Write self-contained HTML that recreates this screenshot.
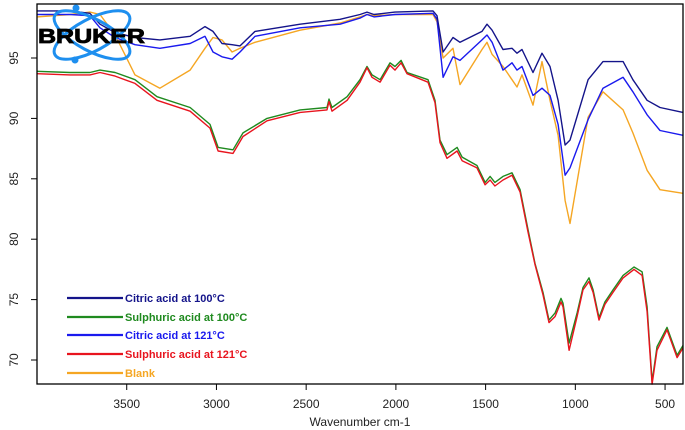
<!DOCTYPE html>
<html><head><meta charset="utf-8"><style>
html,body{margin:0;padding:0;background:#fff;}
svg{display:block;font-family:"Liberation Sans",sans-serif;}
</style></head><body>
<svg id="chart" width="685" height="430" viewBox="0 0 685 430" xmlns="http://www.w3.org/2000/svg">
<g id="series"></g>
<rect x="37" y="4" width="646" height="380" fill="none" stroke="#000" stroke-width="1.3"/>
<g id="axes"></g>
<g>
<ellipse cx="92" cy="35" rx="42" ry="16" transform="rotate(28 92 35)" fill="none" stroke="#1e8fef" stroke-width="3"/>
<ellipse cx="92" cy="35" rx="42" ry="16" transform="rotate(-28 92 35)" fill="none" stroke="#1e8fef" stroke-width="3"/>
<circle cx="76" cy="8" r="3.5" fill="#1e8fef"/>
<circle cx="75" cy="60" r="3.5" fill="#1e8fef"/>
<text x="38" y="43" font-size="20" font-weight="bold" fill="#000" textLength="107" lengthAdjust="spacingAndGlyphs" stroke="#000" stroke-width="0.8" style="font-family:'Liberation Sans',sans-serif">BRUKER</text>
</g>
<g id="legend"></g>
<text x="360" y="426" font-size="12" text-anchor="middle" fill="#222">Wavenumber cm-1</text>
</svg>
<script>
const W1 = [4000,3816,3705,3649,3565,3454,3315,3147,3064,3019,2969,2913,2869,2785,2534,2311,2200,2161,2122,2005,1793,1771,1737,1682,1643,1520,1492,1464,1403,1353,1325,1297,1236,1186,1141,1096,1057,1030,929,846,734,679,600,528,400];
const citric100 = [98.9,98.9,98.7,97.8,97.1,96.7,96.5,96.8,97.6,97.2,96.2,96.1,96.0,97.2,97.8,98.2,98.6,98.8,98.6,98.8,98.9,98.5,95.5,96.7,96.3,97.2,97.8,97.3,95.7,95.8,95.4,95.7,93.8,95.4,94.3,91.5,87.8,88.2,93.2,94.7,94.7,93.2,91.5,90.9,90.5];
const citric121 = [98.6,98.6,98.5,97.5,96.7,96.1,95.8,96.2,96.8,95.5,95.1,94.9,95.5,96.8,97.5,97.8,98.3,98.6,98.4,98.6,98.7,98.2,93.4,95.1,94.8,96.5,96.9,96.3,94.0,94.6,94.0,94.3,91.9,92.5,91.9,89.5,85.3,85.9,89.9,92.5,93.4,92.2,90.3,89.0,88.6];
const blank = [98.4,98.6,98.8,98.6,96.9,93.6,92.5,94.0,95.8,96.7,96.5,95.5,95.8,96.3,97.3,97.9,98.4,98.6,98.5,98.6,98.6,98.0,95.0,95.8,92.8,95.7,96.3,95.3,94.3,93.2,92.6,93.6,91.1,94.7,91.5,88.6,83.2,81.3,90.1,92.2,90.7,88.8,85.7,84.1,83.8];
const W2 = [4000,3816,3705,3649,3565,3454,3331,3147,3036,2991,2908,2852,2718,2534,2384,2373,2356,2272,2200,2161,2133,2088,2033,2005,1971,1938,1821,1782,1754,1715,1659,1631,1548,1503,1475,1448,1403,1353,1308,1264,1225,1180,1147,1113,1080,1069,1035,990,957,924,901,868,835,790,734,673,628,600,572,545,489,433,400];
const sulph100 = [93.9,93.8,93.8,94.0,93.8,93.2,91.8,90.9,89.5,87.6,87.4,88.8,90.0,90.7,90.9,91.6,90.9,91.8,93.2,94.3,93.6,93.2,94.6,94.3,94.8,93.8,93.2,91.5,88.2,87.0,87.6,86.8,86.1,84.7,85.2,84.7,85.2,85.5,84.1,80.8,78.0,75.6,73.3,73.9,75.1,74.7,71.4,73.9,76.0,76.8,75.8,73.5,74.8,75.8,77.0,77.7,77.3,74.4,68.2,71.1,72.7,70.4,71.2];
const sulph121 = [93.7,93.6,93.6,93.8,93.5,92.9,91.5,90.6,89.2,87.3,87.1,88.5,89.8,90.5,90.7,91.4,90.6,91.5,93.0,94.2,93.4,93.0,94.4,94.0,94.6,93.7,93.0,91.3,88.0,86.7,87.3,86.5,85.9,84.5,84.9,84.4,84.9,85.3,83.9,80.6,77.9,75.4,73.1,73.6,74.8,74.4,70.8,73.6,75.8,76.5,75.6,73.3,74.6,75.6,76.8,77.5,77.0,74.0,68.0,70.8,72.5,70.2,71.0];
const xTicks = [3500,3000,2500,2000,1500,1000,500];
const yTicks = [70,75,80,85,90,95];
const legendLabels = ["Citric acid at 100°C","Sulphuric acid at 100°C","Citric acid at 121°C","Sulphuric acid at 121°C","Blank"];

const NS="http://www.w3.org/2000/svg";
const X0=37,X1=683,WMAX=4000,WMIN=400;
const Y95=58,PXU=12.08;
function xs(w){return X0+(WMAX-w)*(X1-X0)/(WMAX-WMIN);}
function ys(v){return Y95+(95-v)*PXU;}
function mk(t,a,p){const e=document.createElementNS(NS,t);for(const k in a)e.setAttribute(k,a[k]);p.appendChild(e);return e;}

const seriesG=document.getElementById('series');
const defs=[
 {w:W2,v:sulph100,c:"#1f8a1f",n:"series-sulphuric-100"},
 {w:W2,v:sulph121,c:"#e8141e",n:"series-sulphuric-121"},
 {w:W1,v:blank,c:"#f5a623",n:"series-blank"},
 {w:W1,v:citric121,c:"#1a1aee",n:"series-citric-121"},
 {w:W1,v:citric100,c:"#14148a",n:"series-citric-100"}
];
defs.forEach(d=>{
  let s="";
  d.v.forEach((v,i)=>{s+=(i?"L":"M")+xs(d.w[i]).toFixed(1)+" "+ys(v).toFixed(1)+" ";});
  const p=mk('path',{d:s,fill:"none",stroke:d.c,"stroke-width":"1.4","stroke-linejoin":"round"},seriesG);
  
  
});

const ax=document.getElementById('axes');
xTicks.forEach(t=>{
  const x=xs(t);
  const l=mk('line',{x1:x,x2:x,y1:384,y2:390,stroke:"#000"},ax);
  
  
  const tx=mk('text',{x:x,y:408,"font-size":"12","text-anchor":"middle",fill:"#222"},ax);
  
  
  tx.textContent=t;
});
yTicks.forEach(t=>{
  const y=ys(t);
  const l=mk('line',{x1:31,x2:37,y1:y,y2:y,stroke:"#000"},ax);
  
  
  const tx=mk('text',{x:0,y:0,"font-size":"12","text-anchor":"middle",fill:"#222",transform:"translate(18 "+y+") rotate(-90)"},ax);
  
  
  tx.textContent=t;
});

const lg=document.getElementById('legend');
const lcol=["#14148a","#1f8a1f","#1a1aee","#e8141e","#f5a623"];
const ly=[298,317,335,354,373];
legendLabels.forEach((lab,i)=>{
  const l=mk('line',{x1:67,x2:123,y1:ly[i],y2:ly[i],stroke:lcol[i],"stroke-width":"2.2"},lg);
  
  
  const t=mk('text',{x:125,y:ly[i]+4,"font-size":"11","font-weight":"bold",fill:lcol[i]},lg);
  
  
  t.textContent=lab;
});
</script>
</body></html>
